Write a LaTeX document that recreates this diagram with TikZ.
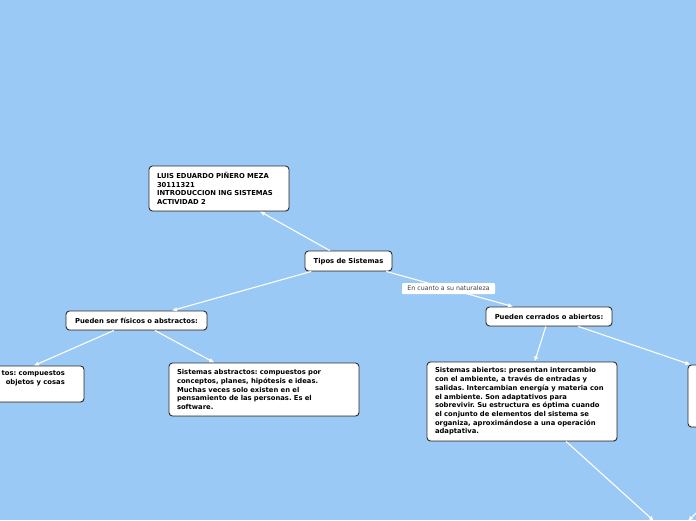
\documentclass[tikz,border=0pt]{standalone}
\usepackage{fontspec}
\setmainfont{DejaVu Sans}
\usetikzlibrary{arrows.meta,shadows}
\definecolor{bgblue}{RGB}{155,201,245}
\definecolor{boxborder}{RGB}{45,45,45}
\frenchspacing
\tikzset{
  boxfont/.style={font=\fontsize{6.8}{8.7}\selectfont\bfseries\frenchspacing, text=black},
  box/.style={draw=boxborder, line width=0.9pt, fill=white, rounded corners=3.5pt,
    drop shadow={shadow xshift=0.6pt, shadow yshift=-0.8pt, opacity=0.35},
    boxfont, inner sep=0pt},
  mbox/.style={box, align=left},
  lbl/.style={fill=white, rounded corners=1pt, font=\fontsize{6.3}{7}\selectfont, text=black!75,
    inner sep=0pt, minimum width=93pt, minimum height=11pt},
  link/.style={draw=white, line width=1.1pt, -{Latex[length=5pt,width=4.5pt]}},
}
\begin{document}
\begin{tikzpicture}[x=1pt,y=-1pt]
\fill[bgblue] (0,0) rectangle (696,520);
\useasboundingbox (0,0) rectangle (696,520);
\clip (0,0) rectangle (696,520);

\node[mbox, minimum width=140pt, minimum height=45pt, text width=124pt] (luis) at (219,188.5)
  {LUIS EDUARDO PIÑERO MEZA\\30111321\\INTRODUCCION ING SISTEMAS\\ACTIVIDAD 2};
\node[box, minimum width=87pt, minimum height=20pt, text depth=0.5pt] (tipos) at (348.5,261) {Tipos de Sistemas};
\node[box, minimum width=141pt, minimum height=19pt] (fisabs) at (136.5,320.5) {Pueden ser físicos o abstractos:};
\node[box, minimum width=170pt, minimum height=36pt] (fis) at (-1,384) {};
\node[boxfont, anchor=north east, align=right, inner sep=0pt] (fistext) at (65,371)
  {tos: compuestos\\objetos y cosas};
\node[mbox, minimum width=190pt, minimum height=53pt, text width=174pt] (abs) at (264,389.5)
  {Sistemas abstractos: compuestos por\\conceptos, planes, hipótesis e ideas.\\Muchas veces solo existen en el\\pensamiento de las personas. Es el\\software.};
\node[box, minimum width=126pt, minimum height=19pt] (cerr) at (549,316.5) {Pueden cerrados o abiertos:};
\node[mbox, minimum width=190pt, minimum height=79pt, text width=174pt] (abi) at (522,401.5)
  {Sistemas abiertos: presentan intercambio\\con el ambiente, a través de entradas y\\salidas. Intercambian energía y materia con\\el ambiente. Son adaptativos para\\sobrevivir. Su estructura es óptima cuando\\el conjunto de elementos del sistema se\\organiza, aproximándose a una operación\\adaptativa.};
\node[box, minimum width=190pt, minimum height=62pt] (cer) at (783,396) {};
\coordinate (abiout) at (654,521);
\coordinate (cerout) at (688,521);

\draw[link] (tipos) -- (luis);
\draw[link] (tipos) -- (fisabs);
\draw[link] (tipos) -- (cerr);
\draw[link] (fisabs) -- (fis.north -| 34,0);
\draw[link] (fisabs) -- (abs);
\draw[link] (cerr) -- (abi);
\draw[link] (cerr) -- (cer);
\draw[link] (abi) -- (abiout);
\draw[link] (cer.south) -- (cerout);

\node[lbl] (nat) at (448.5,288.5) {En cuanto a su naturaleza};
\end{tikzpicture}
\end{document}
